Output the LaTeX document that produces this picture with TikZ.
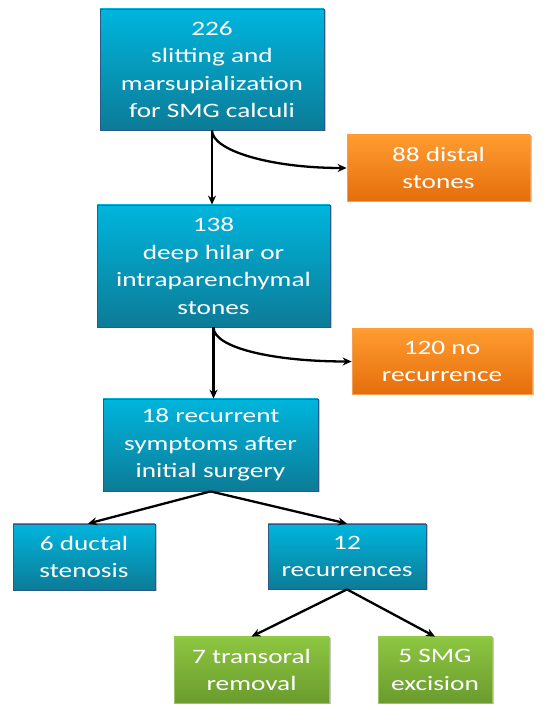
\documentclass[tikz,border=0pt]{standalone}
\usepackage{fontspec}
\setmainfont{Carlito}[FakeStretch=1.33]
\usetikzlibrary{arrows.meta,shadows,calc}
\definecolor{bluetop}{HTML}{00B5DD}
\definecolor{bluebot}{HTML}{0C7B97}
\definecolor{blueline}{HTML}{2A5A8C}
\definecolor{orangetop}{HTML}{FF9C30}
\definecolor{orangebot}{HTML}{E56E0C}
\definecolor{orangeline}{HTML}{F2A055}
\definecolor{greentop}{HTML}{8DC641}
\definecolor{greenbot}{HTML}{6A9B2D}
\definecolor{greenline}{HTML}{9CC45E}
\tikzset{
  box/.style={inner sep=0pt, align=center, text=white,
    font=\fontsize{20.5}{27.5}\selectfont, line width=0.8pt,
    drop shadow={shadow xshift=1.5pt,shadow yshift=-1.5pt,fill=black,opacity=0.22}},
  bluebox/.style={box, draw=blueline, top color=bluetop, bottom color=bluebot},
  orangebox/.style={box, draw=orangeline, top color=orangetop, bottom color=orangebot},
  greenbox/.style={box, draw=greenline, top color=greentop, bottom color=greenbot},
  conn/.style={draw=black, line width=2.3pt, -{Stealth[length=9pt,width=8pt]}}
}
\begin{document}
\begin{tikzpicture}[x=1pt,y=1pt]
\useasboundingbox[fill=white] (0,0) rectangle (550,714);
\node[bluebox, minimum width=224pt, minimum height=121pt] (b1) at (212,644.5)
  {226\\slitting and\\marsupialization\\for SMG calculi};
\node[orangebox, minimum width=183pt, minimum height=66pt] (o1) at (438.5,546)
  {88 distal\\stones};
\node[bluebox, minimum width=233pt, minimum height=122pt] (b2) at (213.5,448)
  {138\\deep hilar or\\intraparenchymal\\stones};
\node[orangebox, minimum width=180pt, minimum height=65pt] (o2) at (442,352.5)
  {120 no\\recurrence};
\node[bluebox, minimum width=215pt, minimum height=92pt] (b3) at (210.5,269)
  {18 recurrent\\symptoms after\\initial surgery};
\node[bluebox, minimum width=142pt, minimum height=66pt] (b4) at (84,157)
  {6 ductal\\stenosis};
\node[bluebox, minimum width=158pt, minimum height=65pt] (b5) at (347,157.5)
  {12\\recurrences};
\node[greenbox, minimum width=155pt, minimum height=66pt] (g1) at (251.5,44)
  {7 transoral\\removal};
\node[greenbox, minimum width=114pt, minimum height=66pt] (g2) at (435,44)
  {5 SMG\\excision};
\draw[conn] (b1.south) -- (b1.south |- b2.north);
\draw[conn] (b1.south) .. controls ($(b1.south)+(0,-20)$) and ($(o1.west)+(-77,0)$) .. (o1.west);
\draw[conn] (b2.south) -- (b2.south |- b3.north);
\draw[conn] (b2.south) .. controls ($(b2.south)+(0,-20)$) and ($(o2.west)+(-80,0)$) .. (o2.west);
\draw[conn] (b3.south) -- ($(b4.north)+(4,0)$);
\draw[conn] (b3.south) -- (b5.north);
\draw[conn] (b5.south) -- (g1.north);
\draw[conn] (b5.south) -- (g2.north);
\end{tikzpicture}
\end{document}
